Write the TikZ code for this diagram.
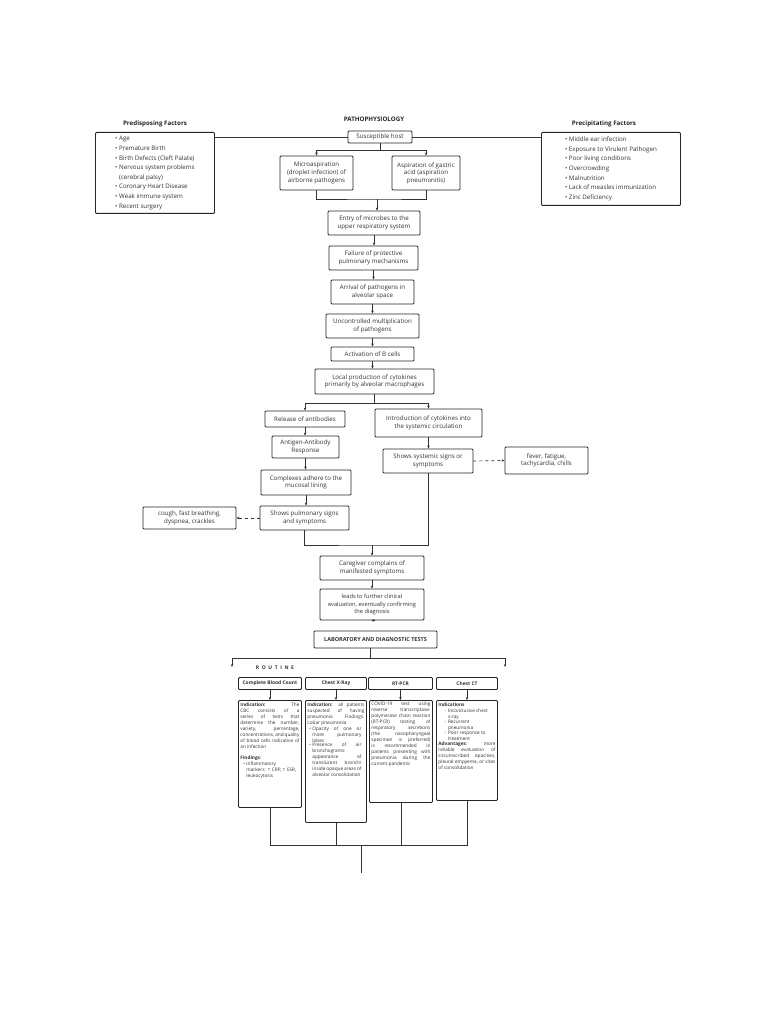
\documentclass[tikz,border=0pt]{standalone}
\usepackage{fontspec}
\setmainfont{Open Sans}
\newfontfamily\symf{DejaVu Sans}
\usetikzlibrary{arrows.meta}
\begin{document}
\begin{tikzpicture}[x=1pt,y=-1pt,
  box/.style={draw=black!85,line width=0.9pt,rounded corners=1pt,align=center,inner sep=1pt,font=\fontsize{6.2}{7.6}\selectfont,text=black!80},
  small/.style={draw=black!85,line width=0.9pt,rounded corners=1pt,inner sep=2pt,anchor=north west,font=\fontsize{4.7}{6}\selectfont,text=black!80},
  lst/.style={draw=black!85,line width=0.9pt,rounded corners=1pt,inner sep=2pt,anchor=north west,align=left,font=\fontsize{6.2}{9.6}\selectfont,text=black!80},
  hdr/.style={font=\bfseries\fontsize{6.2}{7}\selectfont,text=black!85},
  con/.style={draw=black!80,line width=0.7pt},
  arr/.style={con,-{Stealth[length=3pt,width=2.5pt]}},
  darr/.style={arr,dashed}]
\useasboundingbox[fill=white] (0,0) rectangle (768,1024);
\newcommand{\bx}[5]{\node[box,minimum width=#3,minimum height=#4] (#1) at (#2) {#5};}
\newcommand{\up}{{\symf\fontsize{4}{5}\selectfont ↑}}
\newcommand{\cir}{{\symf\fontsize{4}{5}\selectfont ◦}}
\node[hdr] (t1) at (374,119) {PATHOPHYSIOLOGY};
\node[hdr] (t2) at (155,124) {Predisposing Factors};
\node[hdr] (t3) at (604,124) {Precipitating Factors};
\node[lst,minimum width=119,minimum height=81] (pre) at (95,132) {• Age\\• Premature Birth\\• Birth Defects (Cleft Palate)\\• Nervous system problems\\\hphantom{• }(cerebral palsy)\\• Coronary Heart Disease\\• Weak immune system\\• Recent surgery};
\node[lst,minimum width=139,minimum height=73] (prc) at (541,132) {• Middle ear infection\\• Exposure to Virulent Pathogen\\• Poor living conditions\\• Overcrowding\\• Malnutrition\\• Lack of measles immunization\\• Zinc Deficiency};
\bx{host}{380,137}{64}{12}{Susceptible host}
\bx{mic}{316.5,173}{73}{34}{Microaspiration\\(droplet infection) of\\airborne pathogens}
\bx{asp}{426,173}{68}{34}{Aspiration of gastric\\acid (aspiration\\pneumonitis)}
\bx{ent}{374,223}{92}{24}{Entry of microbes to the\\upper respiratory system}
\bx{fail}{373.5,258}{89}{24}{Failure of protective\\pulmonary mechanisms}
\bx{arv}{372.5,292}{83}{24}{Arrival of pathogens in\\alveolar space}
\bx{unc}{372.5,326}{93}{24}{Uncontrolled multiplication\\of pathogens}
\bx{actb}{372.5,354}{83}{14}{Activation of B cells}
\bx{loc}{374.5,381.5}{119}{25}{Local production of cytokines\\primarily by alveolar macrophages}
\bx{rel}{305,419}{80}{16}{Release of antibodies}
\bx{intro}{428.5,423}{107}{28}{Introduction of cytokines into\\the systemic circulation}
\bx{ant}{305.5,447}{67}{22}{Antigen-Antibody\\Response}
\bx{cmp}{306,482.5}{90}{25}{Complexes adhere to the\\mucosal lining}
\bx{pul}{304.5,518}{89}{24}{Shows pulmonary signs\\and symptoms}
\bx{cou}{189.5,518}{93}{22}{cough, fast breathing,\\dyspnea, crackles}
\bx{sys}{428,461}{90}{24}{Shows systemic signs or\\symptoms}
\bx{fev}{546.5,460.5}{83}{27}{fever, fatigue,\\tachycardia, chills}
\bx{care}{372,568}{104}{24}{Caregiver complains of\\manifested symptoms}
\node[box,minimum width=104,minimum height=31,font=\fontsize{5.7}{7.2}\selectfont] (lead) at (372,604.5) {leads to further clinical\\evaluation, eventually confirming\\the diagnosis};
\node[box,minimum width=123,minimum height=17,font=\bfseries\fontsize{5.5}{7}\selectfont] (lab) at (375.5,639.5) {LABORATORY AND DIAGNOSTIC TESTS};
\node[font=\bfseries\fontsize{5}{6}\selectfont,text=black!80] (rout) at (275,668) {R\ \ O\ \ U\ \ T\ \ I\ \ N\ \ E};
\foreach \n/\x/\w/\t in {hc/238/63/Complete Blood Count,hx/305/61/Chest X-Ray,hr/368/64/RT-PCR,ht/436/61/Chest CT}
  \node[box,anchor=north west,minimum width=\w,minimum height=12,font=\bfseries\fontsize{4.9}{6}\selectfont] (\n) at (\x,677) {\t};
\node[small] (cc) at (238,700) {\parbox[t][103pt][t]{59pt}{\hyphenpenalty=10000\noindent\textbf{Indication:} The CBC consists of a series of tests that determine the number, variety, percentage, concentrations, and quality of blood cells indicative of an infection\par\vspace{5pt}\noindent\textbf{Findings}:\par\noindent\hspace*{3pt}• \parbox[t]{50pt}{\raggedright inflammatory markers: \up{} CRP, \up{} ESR, leukocytosis}}};
\node[small] (cx) at (305,700) {\parbox[t][118pt][t]{57pt}{\hyphenpenalty=10000\noindent\textbf{Indication:} all patients suspected of having pneumonia Findings: Lobar pneumonia\par\noindent\hspace*{2pt}• \parbox[t]{49pt}{\hyphenpenalty=10000 Opacity of one or more pulmonary lobes}\par\noindent\hspace*{2pt}• \parbox[t]{49pt}{\hyphenpenalty=10000 Presence of air bronchograms: appearance of translucent bronchi inside opaque areas of alveolar consolidation}}};
\node[small] (cr) at (369,700) {\parbox[t][98pt][t]{59pt}{\hyphenpenalty=10000\noindent COVID-19 test using reverse transcriptase-polymerase chain reaction (RT-PCR) testing of respiratory secretions (the nasopharyngeal specimen is preferred) is recommended in patients presenting with pneumonia during the current pandemic}};
\node[small] (ct) at (436,700) {\parbox[t][96pt][t]{57pt}{\hyphenpenalty=10000\noindent\textbf{Indications}\par\noindent\hspace*{6pt}\cir\ \parbox[t]{40pt}{\raggedright Inconclusive chest x-ray}\par\noindent\hspace*{6pt}\cir\ \parbox[t]{40pt}{\raggedright Recurrent pneumonia}\par\noindent\hspace*{6pt}\cir\ \parbox[t]{40pt}{\raggedright Poor response to treatment}\par\noindent\textbf{Advantages}: more reliable evaluation of circumscribed opacities, pleural empyema, or sites of consolidation}};
% connectors
\draw[con] (pre.north east |- host) -- (host.west);
\draw[con] (host.east) -- (prc.north west |- host);
\coordinate (hs) at (380,150);
\draw[con] (host.south) -- (hs);
\draw[arr] (hs) -| (mic.north);
\draw[arr] (hs) -| (asp.north);
\coordinate (j1) at (377,199);
\draw[con] (mic.south) |- (j1) -| (asp.south);
\draw[arr] (j1) -- (j1 |- ent.north);
\draw[arr] (ent.south) -- (ent.south |- fail.north);
\draw[arr] (fail.south) -- (fail.south |- arv.north);
\draw[arr] (arv.south) -- (arv.south |- unc.north);
\draw[arr] (unc.south) -- (unc.south |- actb.north);
\draw[arr] (actb.south) -- (actb.south |- loc.north);
\coordinate (j2) at (374.5,403);
\draw[con] (loc.south) -- (j2);
\draw[arr] (j2) -| (rel.north);
\draw[arr] (j2) -| (intro.north);
\draw[arr] (rel.south) -- (rel.south |- ant.north);
\draw[arr] (ant.south) -- (ant.south |- cmp.north);
\draw[arr] (cmp.south) -- (cmp.south |- pul.north);
\draw[darr] (pul.west) -- (cou.east);
\draw[arr] (intro.south) -- (intro.south |- sys.north);
\draw[darr] (sys.east) -- (fev.west);
\coordinate (j3) at (372,545);
\draw[con] (pul.south) |- (j3) -| (sys.south);
\draw[arr] (j3) -- (care.north);
\draw[arr] (care.south) -- (lead.north);
\draw[arr] (lead.south) -- (lab.north |- lead.south) ;
\coordinate (j4) at (370,658);
\coordinate (la) at (232,658); \coordinate (lb) at (232,667);
\coordinate (ra) at (505,658); \coordinate (rb) at (505,667);
\draw[con] (lab.south -| j4) -- (j4);
\draw[arr] (j4) -- (la) -- (lb);
\draw[arr] (j4) -- (ra) -- (rb);
\foreach \a/\b in {hc/cc,hx/cx,hr/cr,ht/ct} \draw[arr] (\a.south) -- (\a.south |- \b.north);
\coordinate (j5) at (361,845); \coordinate (e5) at (361,873);
\draw[con] (cc.south) |- (j5);
\draw[con] (cx.south) -- (cx.south |- j5);
\draw[con] (cr.south) -- (cr.south |- j5);
\draw[con] (ct.south) |- (j5);
\draw[con] (j5) -- (e5);
\end{tikzpicture}
\end{document}
